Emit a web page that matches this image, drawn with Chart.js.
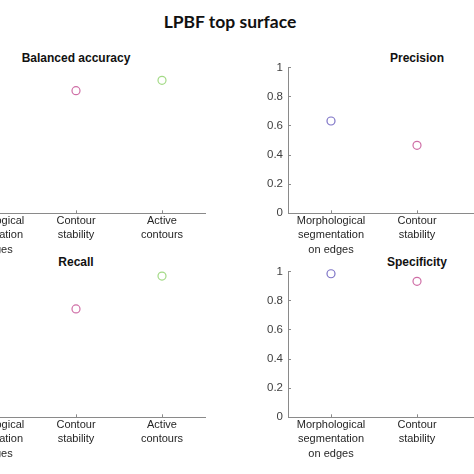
<!DOCTYPE html>
<html lang="en">
<head>
    <meta charset="UTF-8">
    <title>LPBF top surface</title>
    <script src="https://cdn.jsdelivr.net/npm/chart.js@4.4.0/dist/chart.umd.min.js"></script>
    <style>
        html, body { margin: 0; padding: 0; background: #fff; }
        body { width: 474px; height: 474px; position: relative; overflow: hidden; }
        #main-title {
            position: absolute; left: 0; width: 460px; top: 11px;
            text-align: center; font: bold 17.5px Lato, "Open Sans", sans-serif; color: #111;
        }
        .sub-title {
            position: absolute; width: 200px; height: 14px; line-height: 14px;
            text-align: center; font: bold 12px "Liberation Sans", Arial, sans-serif; color: #111;
        }
        .panel { position: absolute; width: 330px; height: 230px; }
        .panel canvas { display: block; }
    </style>
</head>
<body>
    <div id="main-title">LPBF top surface</div>
    <div class="sub-title" style="left:-24px; top:51px;">Balanced accuracy</div>
    <div class="sub-title" style="left:317px; top:51px;">Precision</div>
    <div class="sub-title" style="left:-24px; top:255px;">Recall</div>
    <div class="sub-title" style="left:317px; top:255px;">Specificity</div>
    <div class="panel" style="left:-104px; top:40px;"><canvas id="c-bacc" width="330" height="230"></canvas></div>
    <div class="panel" style="left:237px; top:40px;"><canvas id="c-prec" width="330" height="230"></canvas></div>
    <div class="panel" style="left:-104px; top:244px;"><canvas id="c-rec" width="330" height="230"></canvas></div>
    <div class="panel" style="left:237px; top:244px;"><canvas id="c-spec" width="330" height="230"></canvas></div>
    <script>
        // methods on the x axis
        const methods = [
            ['Morphological', 'segmentation', 'on edges'],
            ['Contour', 'stability'],
            ['Active', 'contours']
        ];
        const methodColors = ['#7d73c6', '#cf6ea6', '#a3da86'];

        // values (null = not visible in the crop)
        const balancedAccuracy = [null, 0.842, 0.913];
        const precision = [0.634, 0.467, null];
        const recall = [null, 0.744, 0.970];
        const specificity = [0.986, 0.934, null];

        const yTicks = [0, 0.2, 0.4, 0.6, 0.8, 1];

        function makePanel(id, values) {
            const ctx = document.getElementById(id).getContext('2d');
            return new Chart(ctx, {
                type: 'line',
                data: {
                    labels: methods,
                    datasets: [{
                        data: values,
                        showLine: false,
                        clip: false,
                        pointStyle: 'circle',
                        pointRadius: 4,
                        pointBorderWidth: 1.2,
                        pointBackgroundColor: 'rgba(0,0,0,0)',
                        pointBorderColor: methodColors
                    }]
                },
                options: {
                    responsive: false,
                    animation: false,
                    layout: { padding: { left: 0, right: 21, top: 27.7, bottom: 0 } },
                    plugins: {
                        legend: { display: false },
                        tooltip: { enabled: false },
                        title: { display: false }
                    },
                    scales: {
                        x: {
                            type: 'category',
                            offset: true,
                            afterFit: (scale) => { scale.height = 56.7; },
                            border: { display: true, color: '#8a8a8a', width: 1 },
                            grid: { drawOnChartArea: false, drawTicks: true, tickLength: -3, color: '#8a8a8a', offset: false },
                            ticks: {
                                color: '#262626',
                                padding: 3,
                                maxRotation: 0,
                                autoSkip: false,
                                font: { family: '"Liberation Sans", Arial, sans-serif', size: 11, lineHeight: 1.33 }
                            }
                        },
                        y: {
                            min: 0,
                            max: 1,
                            afterFit: (scale) => { scale.width = 51; },
                            afterBuildTicks: (scale) => { scale.ticks = yTicks.map(v => ({ value: v })); },
                            border: { display: true, color: '#8a8a8a', width: 1 },
                            grid: { drawOnChartArea: false, drawTicks: true, tickLength: -3, color: '#8a8a8a' },
                            ticks: {
                                color: '#404040',
                                padding: 8,
                                font: { family: '"Liberation Sans", Arial, sans-serif', size: 11.5 },
                                callback: (v) => String(Math.round(v * 10) / 10)
                            }
                        }
                    }
                }
            });
        }

        makePanel('c-bacc', balancedAccuracy);
        makePanel('c-prec', precision);
        makePanel('c-rec', recall);
        makePanel('c-spec', specificity);
    </script>
</body>
</html>
